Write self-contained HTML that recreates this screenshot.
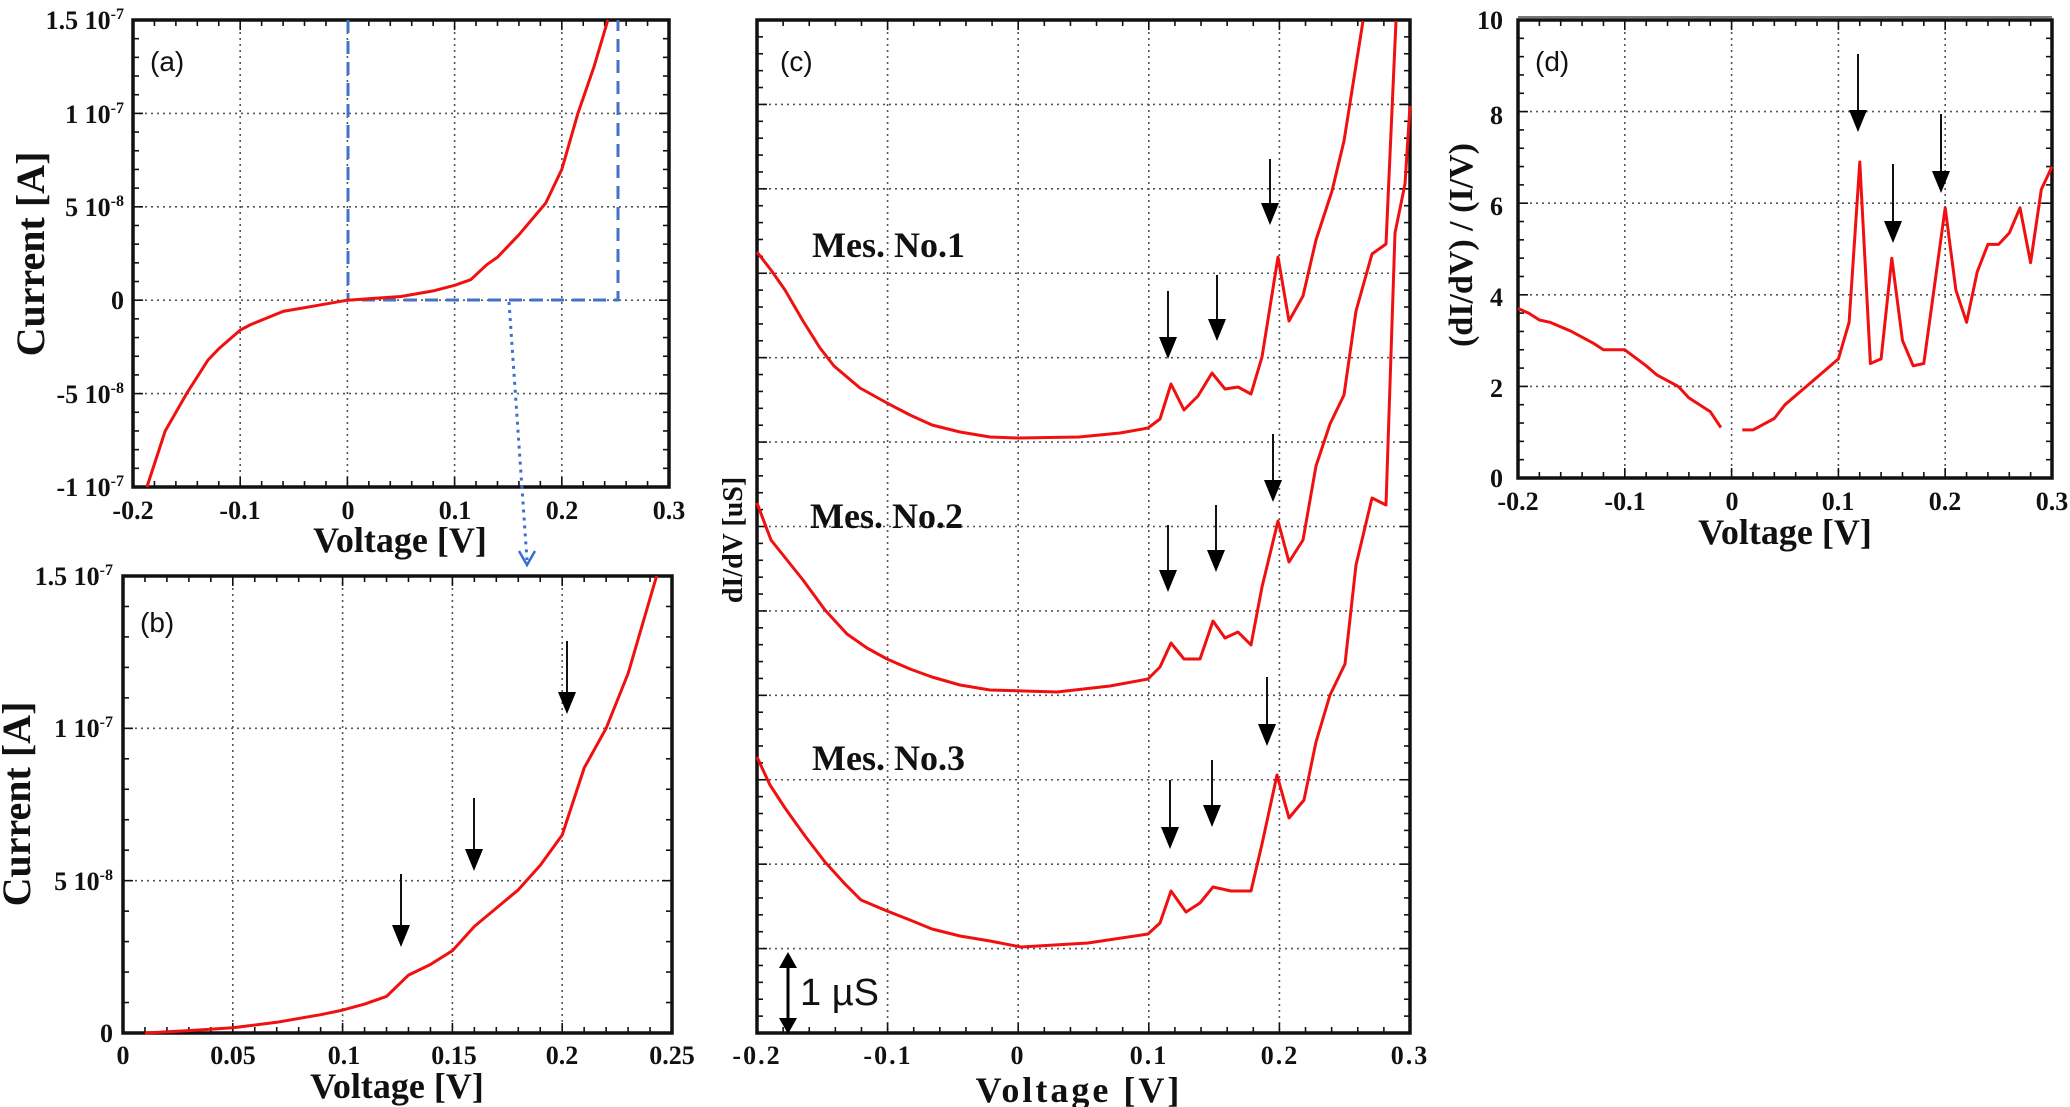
<!DOCTYPE html>
<html><head><meta charset="utf-8"><style>
html,body{margin:0;padding:0;background:#fff;}
svg{display:block;}
.t{font-family:"Liberation Serif",serif;font-weight:bold;fill:#111;}
.tk{font-size:26px;}
.ax{font-size:36px;}
.pl{font-family:"Liberation Sans",sans-serif;font-size:28px;fill:#111;}
</style></head><body>
<svg id="s" width="2070" height="1107" viewBox="0 0 2070 1107" xmlns="http://www.w3.org/2000/svg">
<g id="g"></g>
<!-- panel a labels -->
<g class="t tk" text-anchor="end">
<text x="124" y="29">1.5 10<tspan dy="-10" font-size="16">-7</tspan></text>
<text x="124" y="123">1 10<tspan dy="-10" font-size="16">-7</tspan></text>
<text x="124" y="216">5 10<tspan dy="-10" font-size="16">-8</tspan></text>
<text x="124" y="309">0</text>
<text x="124" y="403">-5 10<tspan dy="-10" font-size="16">-8</tspan></text>
<text x="124" y="496">-1 10<tspan dy="-10" font-size="16">-7</tspan></text>
</g>
<g class="t tk" text-anchor="middle">
<text x="133" y="519">-0.2</text><text x="240" y="519">-0.1</text><text x="348" y="519">0</text>
<text x="455" y="519">0.1</text><text x="562" y="519">0.2</text><text x="669" y="519">0.3</text>
</g>
<text class="t ax" x="400" y="552" text-anchor="middle">Voltage [V]</text>
<text class="t ax" style="font-size:40px" transform="translate(44,254) rotate(-90)" text-anchor="middle">Current [A]</text>
<text class="pl" x="150" y="71">(a)</text>
<!-- panel b labels -->
<g class="t tk" text-anchor="end">
<text x="113" y="585">1.5 10<tspan dy="-10" font-size="16">-7</tspan></text>
<text x="113" y="737">1 10<tspan dy="-10" font-size="16">-7</tspan></text>
<text x="113" y="890">5 10<tspan dy="-10" font-size="16">-8</tspan></text>
<text x="113" y="1042">0</text>
</g>
<g class="t tk" text-anchor="middle">
<text x="123" y="1064">0</text><text x="233" y="1064">0.05</text><text x="344" y="1064">0.1</text>
<text x="454" y="1064">0.15</text><text x="562" y="1064">0.2</text><text x="672" y="1064">0.25</text>
</g>
<text class="t ax" x="397" y="1098" text-anchor="middle">Voltage [V]</text>
<text class="t ax" style="font-size:40px" transform="translate(30,804) rotate(-90)" text-anchor="middle">Current [A]</text>
<text class="pl" x="140" y="632">(b)</text>
<!-- panel c labels -->
<g class="t tk" text-anchor="middle" letter-spacing="2">
<text x="757" y="1064">-0.2</text><text x="888" y="1064">-0.1</text><text x="1018" y="1064">0</text>
<text x="1149" y="1064">0.1</text><text x="1280" y="1064">0.2</text><text x="1410" y="1064">0.3</text>
</g>
<text class="t ax" x="1079" y="1102" text-anchor="middle" letter-spacing="3">Voltage [V]</text>
<text class="t" font-size="28" transform="translate(742,540) rotate(-90)" text-anchor="middle">dI/dV [uS]</text>
<text class="pl" x="780" y="71">(c)</text>
<g class="t" font-size="36">
<text x="812" y="257">Mes. No.1</text>
<text x="810" y="528">Mes. No.2</text>
<text x="812" y="770">Mes. No.3</text>
</g>
<text class="pl" x="800" y="1005" style="font-size:38px">1 µS</text>
<!-- panel d labels -->
<g class="t tk" text-anchor="end">
<text x="1503" y="487">0</text><text x="1503" y="397">2</text><text x="1503" y="306">4</text>
<text x="1503" y="215">6</text><text x="1503" y="124">8</text><text x="1503" y="29">10</text>
</g>
<g class="t tk" text-anchor="middle">
<text x="1518" y="510">-0.2</text><text x="1625" y="510">-0.1</text><text x="1732" y="510">0</text>
<text x="1838" y="510">0.1</text><text x="1945" y="510">0.2</text><text x="2052" y="510">0.3</text>
</g>
<text class="t ax" x="1785" y="544" text-anchor="middle">Voltage [V]</text>
<text class="t ax" style="font-size:34px" transform="translate(1472,245) rotate(-90)" text-anchor="middle">(dI/dV) / (I/V)</text>
<text class="pl" x="1535" y="71">(d)</text>
</svg>
<script>
var NS="http://www.w3.org/2000/svg",G=document.getElementById("g");
function el(n,a){var e=document.createElementNS(NS,n);for(var k in a)e.setAttribute(k,a[k]);G.appendChild(e);return e;}
function line(x1,y1,x2,y2,st){return el("line",Object.assign({x1:x1,y1:y1,x2:x2,y2:y2},st));}
var GRID={stroke:"#555","stroke-width":1.6,"stroke-dasharray":"2,4"};
function panel(L,R,T,B,nx,ny,mx,my){
 for(var i=1;i<nx;i++){var x=L+(R-L)*i/nx;line(x,T,x,B,GRID);}
 for(var j=1;j<ny;j++){var y=T+(B-T)*j/ny;line(L,y,R,y,GRID);}
 var tk={stroke:"#111","stroke-width":1.6};
 for(var i=0;i<=nx*mx;i++){var x=L+(R-L)*i/(nx*mx);var len=(i%mx==0)?10:6;line(x,T,x,T+len,tk);line(x,B,x,B-len,tk);}
 for(var j=0;j<=ny*my;j++){var y=T+(B-T)*j/(ny*my);var len=(j%my==0)?10:6;line(L,y,L+len,y,tk);line(R,y,R-len,y,tk);}
 el("rect",{x:L,y:T,width:R-L,height:B-T,fill:"none",stroke:"#111","stroke-width":3.5});
}
function poly(pts,st){el("polyline",Object.assign({points:pts.map(function(p){return p[0].toFixed(1)+","+p[1].toFixed(1)}).join(" "),fill:"none",stroke:"#f01010","stroke-width":3,"stroke-linejoin":"round"},st||{}));}
function map(data,L,R,T,B,xmin,xmax,ymin,ymax){return data.map(function(d){return [L+(d[0]-xmin)/(xmax-xmin)*(R-L),B-(d[1]-ymin)/(ymax-ymin)*(B-T)];});}
function arrow(x,y1,y2){line(x,y1,x,y2-16,{stroke:"#111","stroke-width":2});el("polygon",{points:(x-9)+","+(y2-22)+" "+(x+9)+","+(y2-22)+" "+x+","+y2,fill:"#000"});}

panel(133,669,20,487,5,5,5,5);
el("polyline",{points:"348,20 348,300 618,300 618,20",fill:"none",stroke:"#4472C4","stroke-width":3,"stroke-dasharray":"13,8"});
line(509,302,527,560,{stroke:"#3a6fd0","stroke-width":3,"stroke-dasharray":"3,5"});
el("polyline",{points:"519,551 527,565 535,551",fill:"none",stroke:"#3a6fd0","stroke-width":2.5});
var A=[[-0.187,-10],[-0.17,-7],[-0.15,-5],[-0.13,-3.2],[-0.12,-2.6],[-0.1,-1.6],[-0.09,-1.3],[-0.06,-0.6],[-0.03,-0.3],[0,0],[0.05,0.2],[0.08,0.5],[0.1,0.8],[0.115,1.1],[0.13,1.9],[0.14,2.3],[0.16,3.5],[0.185,5.2],[0.2,7],[0.215,10],[0.23,12.5],[0.243,15]];
poly(map(A,133,669,20,487,-0.2,0.3,-10,15));
panel(123,672,576,1033,5,3,5,5);
var Bd=[[0.01,0],[0.03,0.08],[0.05,0.17],[0.07,0.35],[0.09,0.6],[0.1,0.75],[0.11,0.95],[0.12,1.2],[0.13,1.9],[0.14,2.25],[0.15,2.7],[0.16,3.5],[0.17,4.1],[0.18,4.7],[0.19,5.5],[0.2,6.5],[0.21,8.7],[0.22,10],[0.23,11.8],[0.243,15]];
poly(map(Bd,123,672,576,1033,0,0.25,0,15));
arrow(401,874,947);arrow(474,798,871);arrow(567,641,714);
panel(757,1410,20,1033,5,12,5,5);
poly([[757,252],[771,270],[785,290],[803,321],[820,348],[834,366],[860,388],[887,403],[910,415],[932,425],[960,432],[990,437],[1018,438],[1079,437],[1120,433],[1148,428],[1160,419],[1171,384],[1184,410],[1198,396],[1212,373],[1225,389],[1238,387],[1251,394],[1262,357],[1278,257],[1289,321],[1303,296],[1316,240],[1332,191],[1344,141],[1363,21]]);
poly([[757,503],[771,540],[787,560],[803,580],[825,610],[847,634],[867,648],[887,659],[910,669],[932,677],[960,685],[990,690],[1057,692],[1110,686],[1148,679],[1160,667],[1171,643],[1184,659],[1200,659],[1213,621],[1225,638],[1238,632],[1251,645],[1262,587],[1278,521],[1289,562],[1303,540],[1316,466],[1330,424],[1344,395],[1356,311],[1372,254],[1386,244],[1396,21]]);
poly([[757,757],[770,785],[785,808],[805,836],[825,862],[845,884],[861,900],[887,911],[910,920],[932,929],[960,936],[990,941],[1021,947],[1088,943],[1148,934],[1160,923],[1171,891],[1186,912],[1200,903],[1213,887],[1231,891],[1251,891],[1262,844],[1277,775],[1289,818],[1304,800],[1316,742],[1330,695],[1345,664],[1356,565],[1372,498],[1386,505],[1395,233],[1405,184],[1410,106]]);
arrow(1168,291,359);arrow(1217,275,341);arrow(1270,159,225);
arrow(1168,525,592);arrow(1216,505,572);arrow(1273,434,502);
arrow(1170,780,849);arrow(1212,760,827);arrow(1267,677,746);
line(788,962,788,1024,{stroke:"#000","stroke-width":3});
el("polygon",{points:"779,968 797,968 788,952",fill:"#000"});
el("polygon",{points:"779,1018 797,1018 788,1034",fill:"#000"});
panel(1518,2052,20,478,5,5,5,5);
line(1518,17,2052,17,{stroke:"#777","stroke-width":2});
var D1=[[-0.2,3.7],[-0.19,3.6],[-0.18,3.45],[-0.17,3.4],[-0.15,3.2],[-0.13,2.95],[-0.12,2.8],[-0.1,2.8],[-0.08,2.45],[-0.07,2.25],[-0.05,2.0],[-0.04,1.75],[-0.02,1.45],[-0.01,1.1]];
var D2=[[0.01,1.05],[0.02,1.05],[0.04,1.3],[0.05,1.6],[0.07,2.0],[0.09,2.4],[0.1,2.6],[0.11,3.4],[0.12,6.9],[0.13,2.5],[0.14,2.6],[0.15,4.8],[0.16,3.0],[0.17,2.45],[0.18,2.5],[0.2,5.9],[0.21,4.1],[0.22,3.4],[0.23,4.5],[0.24,5.1],[0.25,5.1],[0.26,5.35],[0.27,5.9],[0.28,4.7],[0.29,6.3],[0.3,6.8]];
poly(map(D1,1518,2052,20,478,-0.2,0.3,0,10));
poly(map(D2,1518,2052,20,478,-0.2,0.3,0,10));
arrow(1858,54,132);arrow(1893,164,243);arrow(1941,114,193);
</script>
</body></html>
